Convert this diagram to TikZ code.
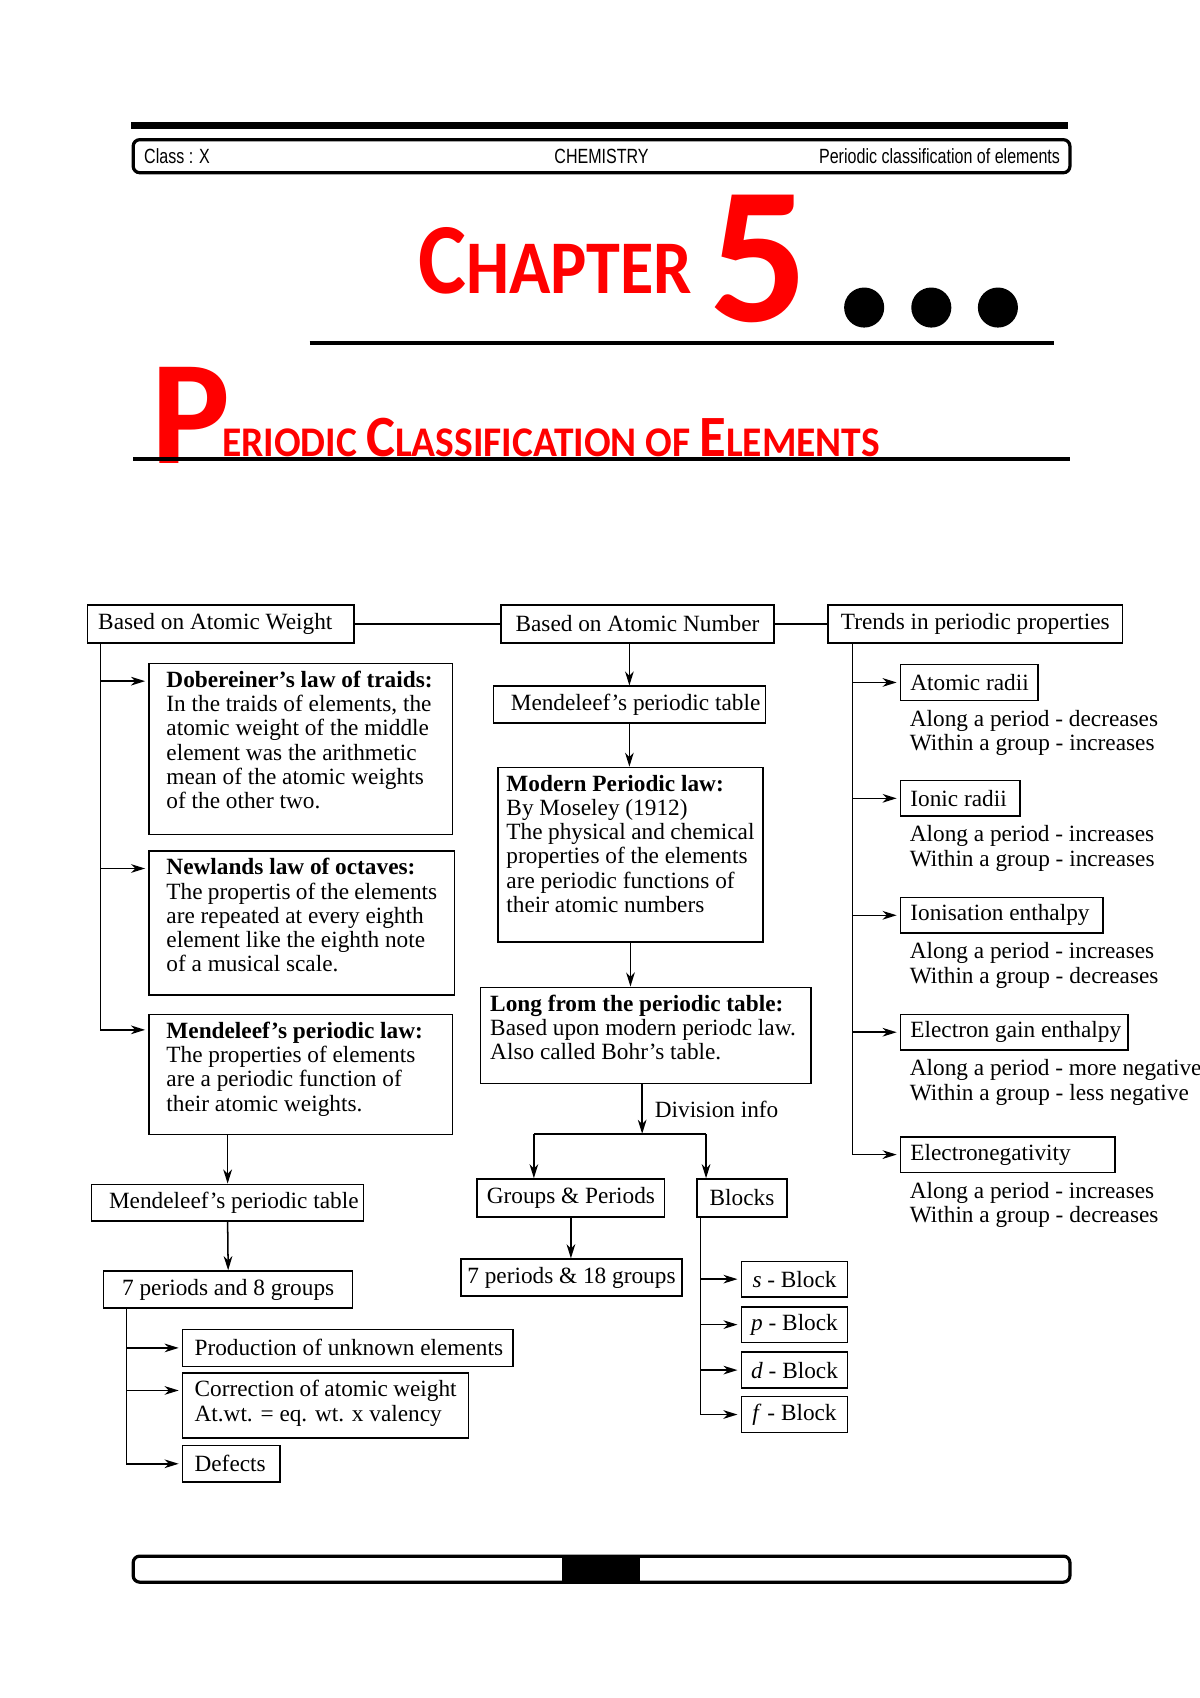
\documentclass[tikz,border=0pt]{standalone}
\usepackage{fontspec}
\setmainfont{Liberation Serif}
\newfontfamily\headfont[FakeStretch=0.78]{Liberation Sans}
\newfontfamily\chapfont[FakeStretch=0.9]{Carlito}
\newfontfamily\titlefont[FakeStretch=0.935]{Carlito}
\newfontfamily\numfont{Carlito}
\usetikzlibrary{arrows.meta}
\usetikzlibrary{calc}

\tikzset{
  box/.style={draw, line width=1.4pt, anchor=north west, inner sep=0pt, minimum height=34pt},
  lbox/.style={box, inner xsep=9pt},
  lawbox/.style={draw, line width=1.4pt, anchor=north west, inner ysep=7pt},
  desc/.style={anchor=north west, inner sep=0pt, align=left},
  ln/.style={line width=1.4pt},
  arr/.style={line width=1.4pt, -{Stealth[length=13pt,width=8pt,inset=4pt]}},
  harr/.style={arr, shorten >=3pt},
  head/.style={inner sep=0pt, font=\headfont\fontsize{19}{19}\selectfont},
  title/.style={red, inner sep=0pt, anchor=base west}
}
\newcommand{\lawtext}[3]{\parbox[t][#1][t]{#2}{\raggedright #3}}
\newcommand{\ltext}[2]{\makebox[#1][l]{#2}}

\begin{document}
\begin{tikzpicture}[x=1pt,y=-1pt,font=\fontsize{21.5}{22.4}\selectfont]
\useasboundingbox (0,0) rectangle (1108,1568);

% header
\fill (121,112.5) rectangle (986,119.5);
\draw[line width=3pt,rounded corners=6pt] (123,129) rectangle (988,159.5);
\node[head, anchor=west] (cls) at (133,144) {Class : X};
\node[head] (subj) at (555.5,144) {CHEMISTRY};
\node[head, anchor=east] (topic) at (979,144) {Periodic classification of elements};

% chapter title
\node[title, font=\chapfont\bfseries] (chap) at (386,271) {{\fontsize{93}{93}\selectfont C}{\fontsize{70}{70}\selectfont HAPTER}};
\node[title, font=\numfont\bfseries\fontsize{180}{180}\selectfont] (five) at (655,297) {5};
\foreach \x in {798,860,921.5}
    \fill (\x,284) circle (18.5);
\draw[line width=4pt] (286,316.5) -- (973,316.5);

\node[title, font=\numfont\bfseries\fontsize{137}{137}\selectfont] (bigp) at (140,428) {P};
\node[title, font=\titlefont\bfseries] (ttl) at (205,422) {\fontsize{39}{39}\selectfont ERIODIC {\fontsize{54}{54}\selectfont C}LASSIFICATION OF {\fontsize{54}{54}\selectfont E}LEMENTS};
\draw[line width=4pt] (123,424) -- (988,424);

% top row
\node[lbox, inner xsep=10pt, minimum height=35pt] (aw) at (80,558) {\ltext{226pt}{Based on Atomic Weight}};
\node[box, minimum width=252pt, minimum height=35pt] (an) at (462,558) {Based on Atomic Number};
\node[box, minimum width=272pt, minimum height=35pt] (tr) at (764,558) {Trends in periodic properties};
\draw[ln] (aw.east) -- (an.west);
\draw[ln] (an.east) -- (tr.west);

% atomic weight branch
\node[lawbox, inner xsep=16pt] (dob) at (137,612) {\lawtext{144pt}{248pt}{\textbf{Dobereiner's law of traids:}\\ In the traids of elements, the\\ atomic weight of the middle\\ element was the arithmetic\\ mean of the atomic weights\\ of the other two.}};
\node[lawbox, inner xsep=16pt] (newl) at (137,785) {\lawtext{119pt}{250pt}{\textbf{Newlands law of octaves:}\\ The propertis of the elements\\ are repeated at every eighth\\ element like the eighth note\\ of a musical scale.}};
\node[lawbox, inner xsep=16pt] (mlaw) at (137,936) {\lawtext{97pt}{248pt}{\textbf{Mendeleef's periodic law:}\\ The properties of elements\\ are a periodic function of\\ their atomic weights.}};
\node[lbox, inner xsep=16pt] (mtab2) at (84,1093) {\ltext{219pt}{Mendeleef's periodic table}};
\node[box, minimum width=230pt] (per8) at (95,1173) {7 periods and 8 groups};
\node[lbox, inner xsep=11pt] (prod) at (168,1227) {\ltext{283pt}{Production of unknown elements}};
\node[lawbox, inner xsep=11pt] (corr) at (168,1267) {\lawtext{46pt}{242pt}{Correction of atomic weight\\ At.wt. = eq. wt. x valency}};
\node[lbox, inner xsep=11pt] (defect) at (168,1334) {\ltext{68pt}{Defects}};

\coordinate (awb) at ([xshift=13pt]aw.south west);
\draw[harr] (awb) |- ([yshift=-17pt]dob.north west);
\draw[harr] (awb) |- ([yshift=-17pt]newl.north west);
\draw[harr] (awb) |- ([yshift=-15pt]mlaw.north west);
\draw[arr] (mlaw.south -| mtab2.north) -- (mtab2.north);
\draw[arr] (mtab2.south) -- (per8.north);
\coordinate (p8b) at ([xshift=22pt]per8.south west);
\draw[harr] (p8b) |- (prod.west);
\draw[harr] (p8b) |- ([yshift=-17pt]corr.north west);
\draw[harr] (p8b) |- (defect.west);

% atomic number branch
\node[lbox, inner xsep=16pt] (mtab) at (455,633) {\ltext{219pt}{Mendeleef's periodic table}};
\node[lawbox, inner xsep=8pt] (modern) at (459,708) {\lawtext{147pt}{229pt}{\textbf{Modern Periodic law:}\\ By Moseley (1912)\\ The physical and chemical\\ properties of the elements\\ are periodic functions of\\ their atomic numbers}};
\node[lawbox, inner xsep=9pt] (longf) at (443,911) {\lawtext{75pt}{287pt}{\textbf{Long from the periodic table:}\\ Based upon modern periodc law.\\ Also called Bohr's table.}};
\node[box, minimum width=173pt, minimum height=35pt] (grp) at (440,1088) {Groups \& Periods};
\node[box, minimum width=83pt, minimum height=35pt] (blk) at (643,1088) {Blocks};
\node[box, minimum width=204pt] (per18) at (425,1162) {7 periods \& 18 groups};
\foreach \n/\y/\l in {sblk/1164/s, pblk/1206/p, dblk/1248/d, fblk/1289/f}
    \node[box, minimum width=98pt, minimum height=33pt] (\n) at (684,\y) {\textit{\l} - Block};

\draw[arr] (an.south -| mtab.north) -- (mtab.north);
\draw[arr] (mtab.south) -- (mtab.south |- modern.north);
\draw[arr] (modern.south) -- (modern.south |- longf.north);
\coordinate (div) at (593,1047);
\draw[arr] (longf.south -| div) -- node[right=11pt, inner sep=0pt] (divlbl) {Division info} (div);
\coordinate (gtop) at (493,1047);
\coordinate (btop) at (652,1047);
\draw[ln] (gtop) -- (btop);
\draw[arr] (gtop) -- (gtop |- grp.north);
\draw[arr] (btop) -- (btop |- blk.north);
\draw[arr] (grp.south) -- (grp.south |- per18.north);
\coordinate (blkb) at ([xshift=4pt]blk.south west);
\foreach \n in {sblk,pblk,dblk,fblk}
    \draw[harr] (blkb) |- (\n.west);

% trends branch
\foreach \n/\y/\w/\t/\a/\b in {arad/613/109/Atomic radii/decreases/increases,
    irad/720/92/Ionic radii/increases/increases,
    ion/828/169/Ionisation enthalpy/increases/decreases,
    egain/936/192/Electron gain enthalpy/more negative/less negative,
    eneg/1049/180/Electronegativity/increases/decreases}
{
    \node[lbox, minimum height=33pt] (\n) at (831,\y) {\ltext{\w pt}{\t}};
    \node[desc] at ([xshift=9pt,yshift=-8pt]\n.south west) {Along a period - \a\\ Within a group - \b};
}
\coordinate (trb) at ([xshift=23pt]tr.south west);
\foreach \n in {arad,irad,ion,egain,eneg}
    \draw[harr] (trb) |- (\n.west);

% footer
\draw[line width=3pt,rounded corners=6pt] (123,1437) rectangle (988,1461);
\fill (519,1437) rectangle (591,1461);
\end{tikzpicture}
\end{document}
